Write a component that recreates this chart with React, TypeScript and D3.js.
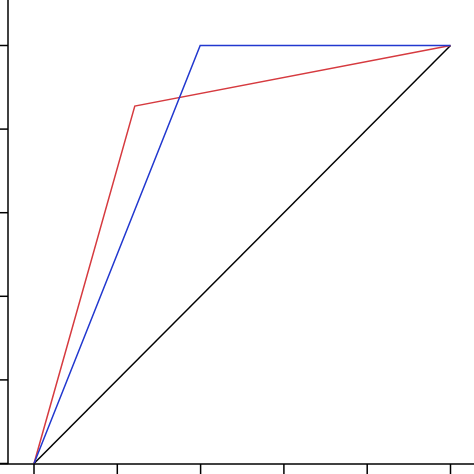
import * as d3 from "d3";

const size = 474;

// false positive rate / true positive rate for each curve
const redFpr = [0, 0.242, 1];
const redTpr = [0, 0.855, 1];
const blueFpr = [0, 0.399, 1];
const blueTpr = [0, 1.0, 1];
const chanceFpr = [0, 1];
const chanceTpr = [0, 1];
const tickValues = [0, 0.2, 0.4, 0.6, 0.8, 1];

const xScale = d3.scaleLinear().domain([0, 1]).range([34, 450.5]);
const yScale = d3.scaleLinear().domain([0, 1]).range([463.5, 45.5]);

const axisX = 8;
const axisY = 464;

function buildPath(xs: number[], ys: number[]) {
  const pts = xs.map((x, i) => [x, ys[i]] as [number, number]);
  return (
    d3
      .line<[number, number]>()
      .x((p) => xScale(p[0]))
      .y((p) => yScale(p[1]))(pts) ?? ""
  );
}

export default function App() {
  return (
    <svg
      width={size}
      height={size}
      viewBox={`0 0 ${size} ${size}`}
      style={{ position: "absolute", left: 0, top: 0, background: "#fff" }}
    >
      <path d={buildPath(chanceFpr, chanceTpr)} fill="none" stroke="#000" strokeWidth={1.5} />
      <path d={buildPath(redFpr, redTpr)} fill="none" stroke="#d63a3f" strokeWidth={1.5} />
      <path d={buildPath(blueFpr, blueTpr)} fill="none" stroke="#2238cf" strokeWidth={1.5} />

      <line x1={axisX} x2={axisX} y1={0} y2={axisY} stroke="#000" strokeWidth={1.5} />
      {tickValues.map((t) => (
        <line key={`y-${t}`} x1={0} x2={axisX} y1={yScale(t)} y2={yScale(t)} stroke="#000" strokeWidth={1.5} />
      ))}

      <line x1={0} x2={size} y1={axisY} y2={axisY} stroke="#000" strokeWidth={1.5} />
      {tickValues.map((t) => (
        <line key={`x-${t}`} x1={xScale(t)} x2={xScale(t)} y1={axisY} y2={size} stroke="#000" strokeWidth={1.5} />
      ))}
    </svg>
  );
}
